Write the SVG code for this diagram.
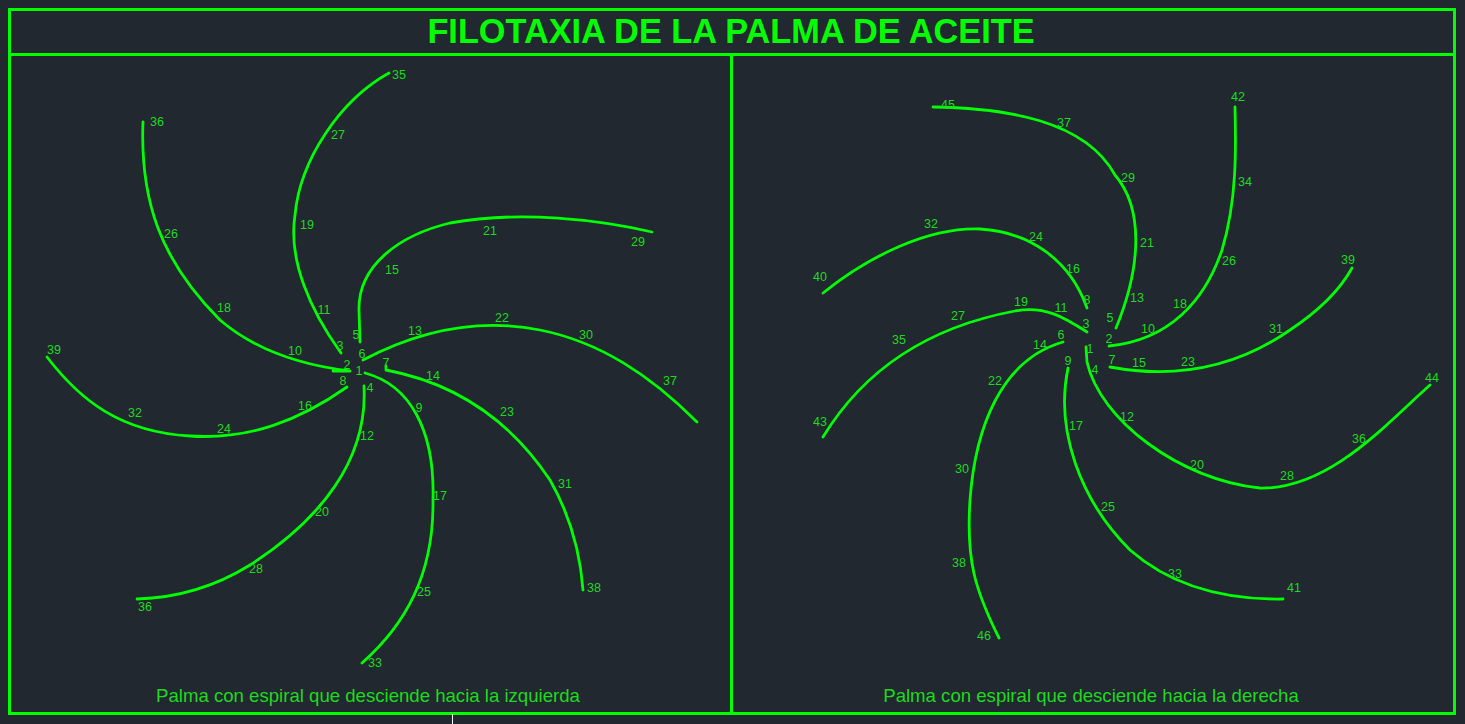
<svg xmlns="http://www.w3.org/2000/svg" width="1465" height="724" viewBox="0 0 1465 724">
<style>
.frame{fill:none;stroke:#00ff00;stroke-width:3}
.c{fill:none;stroke:#00ff00;stroke-width:2.8;stroke-linecap:round;stroke-linejoin:round}
.l{font-family:"Liberation Sans",Arial,sans-serif;font-size:12.5px;fill:#1fd81f;text-anchor:middle}
.title{font-family:"Liberation Sans",Arial,sans-serif;font-size:34.3px;font-weight:bold;fill:#00ff00;text-anchor:middle}
.cap{font-family:"Liberation Sans",Arial,sans-serif;font-size:18.6px;fill:#1fd81f;text-anchor:middle}
</style>
<rect width="1465" height="724" fill="#212830"/>
<g id="frame">
<rect class="frame" x="9.5" y="9.5" width="1445" height="704"/>
<line class="frame" x1="9.5" y1="54.5" x2="1454.5" y2="54.5"/>
<line class="frame" x1="731.5" y1="54.5" x2="731.5" y2="713.5"/>
<line x1="452.5" y1="714" x2="452.5" y2="724" stroke="#ffffff" stroke-width="1"/>
</g>
<text id="title" class="title" x="731" y="43">FILOTAXIA DE LA PALMA DE ACEITE</text>
<g id="connectors">
<!-- left panel -->
<path class="c" d="M341,353 C310,310 288,260 295,215 C300,160 340,100 389,73"/>
<path class="c" d="M143,122 C140,200 160,260 220,320 C255,350 300,365 350,371 M333,371 L350,371"/>
<path class="c" d="M360,342 L359,310 C358,265 400,235 450,223 C520,210 600,220 652,232"/>
<path class="c" d="M363,360 C420,330 480,318 540,330 C600,342 650,375 697,422"/>
<path class="c" d="M386,366 L386,370 C455,383 510,420 550,480 C570,515 580,550 583,590"/>
<path class="c" d="M365,373 C410,385 435,430 433,500 C434,575 405,625 362,663"/>
<path class="c" d="M364,386 C368,460 320,520 250,565 C210,590 170,598 137,599"/>
<path class="c" d="M347,387 C300,420 250,440 190,436 C120,432 80,400 47,357"/>
<!-- right panel -->
<path class="c" d="M1116,328 C1140,270 1145,210 1115,175 C1085,120 1005,108 933,107"/>
<path class="c" d="M1087,308 C1070,260 1030,232 980,229 C930,227 870,255 823,293"/>
<path class="c" d="M1087,332 C1065,318 1045,305 1015,311 C940,325 870,360 823,437"/>
<path class="c" d="M1063,342 C1000,360 975,430 970,500 C966,560 975,590 999,638"/>
<path class="c" d="M1068,368 C1055,430 1080,500 1130,550 C1170,585 1220,600 1283,599"/>
<path class="c" d="M1086,347 L1087,362 C1100,420 1180,480 1260,488 C1330,490 1390,420 1430,385"/>
<path class="c" d="M1110,367 C1180,380 1240,365 1290,330 C1320,310 1340,290 1352,268"/>
<path class="c" d="M1109,346 C1170,340 1205,300 1222,250 C1237,200 1236,150 1235,107"/>
</g>
<g id="labels-left">
<text class="l" x="399" y="78.5">35</text>
<text class="l" x="338" y="138.5">27</text>
<text class="l" x="307" y="228.5">19</text>
<text class="l" x="324" y="313.5">11</text>
<text class="l" x="157" y="125.5">36</text>
<text class="l" x="171" y="237.5">26</text>
<text class="l" x="224" y="311.5">18</text>
<text class="l" x="392" y="273.5">15</text>
<text class="l" x="356" y="338.5">5</text>
<text class="l" x="415" y="334.5">13</text>
<text class="l" x="362" y="357.5">6</text>
<text class="l" x="295" y="354.5">10</text>
<text class="l" x="340" y="349.5">3</text>
<text class="l" x="347" y="368.5">2</text>
<text class="l" x="359" y="374.5">1</text>
<text class="l" x="386" y="366.5">7</text>
<text class="l" x="433" y="379.5">14</text>
<text class="l" x="343" y="384.5">8</text>
<text class="l" x="370" y="391.5">4</text>
<text class="l" x="305" y="409.5">16</text>
<text class="l" x="419" y="411.5">9</text>
<text class="l" x="54" y="353.5">39</text>
<text class="l" x="135" y="416.5">32</text>
<text class="l" x="224" y="432.5">24</text>
<text class="l" x="367" y="439.5">12</text>
<text class="l" x="322" y="515.5">20</text>
<text class="l" x="256" y="572.5">28</text>
<text class="l" x="145" y="610.5">36</text>
<text class="l" x="490" y="234.5">21</text>
<text class="l" x="638" y="245.5">29</text>
<text class="l" x="502" y="321.5">22</text>
<text class="l" x="586" y="338.5">30</text>
<text class="l" x="670" y="384.5">37</text>
<text class="l" x="507" y="415.5">23</text>
<text class="l" x="565" y="487.5">31</text>
<text class="l" x="594" y="591.5">38</text>
<text class="l" x="440" y="499.5">17</text>
<text class="l" x="424" y="595.5">25</text>
<text class="l" x="375" y="666.5">33</text>
</g>
<g id="labels-right">
<text class="l" x="948" y="108.5">45</text>
<text class="l" x="1064" y="126.5">37</text>
<text class="l" x="1128" y="181.5">29</text>
<text class="l" x="1147" y="246.5">21</text>
<text class="l" x="1137" y="301.5">13</text>
<text class="l" x="931" y="227.5">32</text>
<text class="l" x="1036" y="240.5">24</text>
<text class="l" x="1073" y="272.5">16</text>
<text class="l" x="1087" y="303.5">8</text>
<text class="l" x="820" y="280.5">40</text>
<text class="l" x="1110" y="321.5">5</text>
<text class="l" x="1238" y="100.5">42</text>
<text class="l" x="1245" y="185.5">34</text>
<text class="l" x="1229" y="264.5">26</text>
<text class="l" x="1180" y="307.5">18</text>
<text class="l" x="1148" y="332.5">10</text>
<text class="l" x="1348" y="263.5">39</text>
<text class="l" x="1276" y="332.5">31</text>
<text class="l" x="1188" y="365.5">23</text>
<text class="l" x="1139" y="366.5">15</text>
<text class="l" x="1112" y="363.5">7</text>
<text class="l" x="1109" y="342.5">2</text>
<text class="l" x="1090" y="352.5">1</text>
<text class="l" x="1095" y="373.5">4</text>
<text class="l" x="1086" y="327.5">3</text>
<text class="l" x="1061" y="311.5">11</text>
<text class="l" x="1061" y="338.5">6</text>
<text class="l" x="1040" y="348.5">14</text>
<text class="l" x="1068" y="364.5">9</text>
<text class="l" x="1021" y="305.5">19</text>
<text class="l" x="958" y="319.5">27</text>
<text class="l" x="899" y="343.5">35</text>
<text class="l" x="820" y="425.5">43</text>
<text class="l" x="995" y="384.5">22</text>
<text class="l" x="962" y="472.5">30</text>
<text class="l" x="959" y="566.5">38</text>
<text class="l" x="984" y="639.5">46</text>
<text class="l" x="1076" y="429.5">17</text>
<text class="l" x="1127" y="420.5">12</text>
<text class="l" x="1197" y="468.5">20</text>
<text class="l" x="1287" y="479.5">28</text>
<text class="l" x="1359" y="442.5">36</text>
<text class="l" x="1432" y="381.5">44</text>
<text class="l" x="1108" y="510.5">25</text>
<text class="l" x="1175" y="577.5">33</text>
<text class="l" x="1294" y="591.5">41</text>
</g>
<text id="caption-left" class="cap" x="368" y="702">Palma con espiral que desciende hacia la izquierda</text>
<text id="caption-right" class="cap" x="1091" y="702">Palma con espiral que desciende hacia la derecha</text>
</svg>
